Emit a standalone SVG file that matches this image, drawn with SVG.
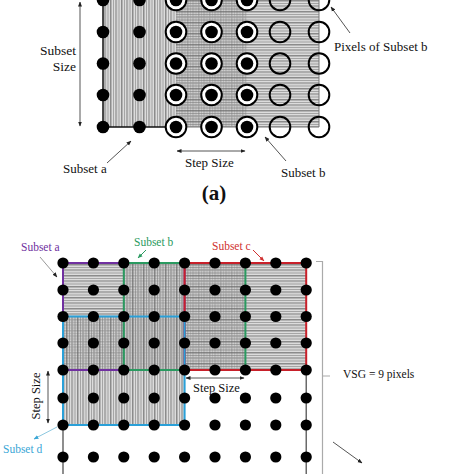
<svg xmlns="http://www.w3.org/2000/svg" width="474" height="474" viewBox="0 0 474 474">
<style>
  text { font-family: "Liberation Serif", "Times New Roman", serif; fill: #111; }
  .dot { fill: #000; }
  .ring { fill: #fff; stroke: #000; stroke-width: 2; }
  .open { fill: none; stroke: #000; stroke-width: 2; }
  .ann { stroke: #555; stroke-width: 1; fill: none; }
  .edge { fill: none; stroke-width: 2; }
</style>
<defs>
  <marker id="ah" viewBox="0 0 10 10" refX="9" refY="5" markerWidth="5" markerHeight="5" orient="auto-start-reverse">
    <path d="M0,1 L10,5 L0,9 z" fill="#222"/>
  </marker>
  <marker id="ahg" viewBox="0 0 10 10" refX="9" refY="5" markerWidth="5" markerHeight="5" orient="auto-start-reverse">
    <path d="M0,1 L10,5 L0,9 z" fill="#2a9a60"/>
  </marker>
  <marker id="ahr" viewBox="0 0 10 10" refX="9" refY="5" markerWidth="5" markerHeight="5" orient="auto-start-reverse">
    <path d="M0,1 L10,5 L0,9 z" fill="#d03030"/>
  </marker>
  <marker id="ahb" viewBox="0 0 10 10" refX="9" refY="5" markerWidth="5" markerHeight="5" orient="auto-start-reverse">
    <path d="M0,1 L10,5 L0,9 z" fill="#3aa6d6"/>
  </marker>
  <pattern id="ph" width="8" height="11" patternUnits="userSpaceOnUse">
    <rect width="8" height="11" fill="#c4c4c4" fill-opacity="0.6"/>
    <rect y="0" width="8" height="1.5" fill="#6a6a6a" fill-opacity="0.7"/>
    <rect y="3" width="8" height="0.8" fill="#7a7a7a" fill-opacity="0.7"/>
    <rect y="5" width="8" height="2.2" fill="#999" fill-opacity="0.7"/>
    <rect y="8.6" width="8" height="0.8" fill="#6e6e6e" fill-opacity="0.7"/>
  </pattern>
  <pattern id="pv" width="11" height="8" patternUnits="userSpaceOnUse">
    <rect width="11" height="8" fill="#c4c4c4" fill-opacity="0.6"/>
    <rect x="0" width="1.5" height="8" fill="#6a6a6a" fill-opacity="0.7"/>
    <rect x="3" width="0.8" height="8" fill="#7a7a7a" fill-opacity="0.7"/>
    <rect x="5" width="2.2" height="8" fill="#999" fill-opacity="0.7"/>
    <rect x="8.6" width="0.8" height="8" fill="#6e6e6e" fill-opacity="0.7"/>
  </pattern>
</defs>
<rect width="474" height="474" fill="#fff"/>

<!-- ===== Part (a) ===== -->
<g id="a-subset-a">
  <rect x="103" y="-2" width="144" height="129" fill="url(#pv)"/>
  <path d="M103,-2 V127 H176" stroke="#111" stroke-width="1.5" fill="none"/>
</g>
<g id="a-subset-b">
  <rect x="176" y="-2" width="143" height="129" fill="url(#ph)"/>
  <path d="M176,127 H319 V-2" stroke="#777" stroke-width="1" fill="none"/>
</g>
<g id="a-pixels">
  <g id="a-col1">
    <circle class="dot" cx="103" cy="0" r="6.3"/><circle class="dot" cx="103" cy="32" r="6.3"/><circle class="dot" cx="103" cy="63.5" r="6.3"/><circle class="dot" cx="103" cy="95" r="6.3"/><circle class="dot" cx="103" cy="127" r="6.3"/>
  </g>
  <g id="a-col2">
    <circle class="dot" cx="139.5" cy="0" r="6.3"/><circle class="dot" cx="139.5" cy="32" r="6.3"/><circle class="dot" cx="139.5" cy="63.5" r="6.3"/><circle class="dot" cx="139.5" cy="95" r="6.3"/><circle class="dot" cx="139.5" cy="127" r="6.3"/>
  </g>
  <g id="a-col3">
    <circle class="ring" cx="176" cy="0" r="10.3"/><circle class="dot" cx="176" cy="0" r="6.3"/>
    <circle class="ring" cx="176" cy="32" r="10.3"/><circle class="dot" cx="176" cy="32" r="6.3"/>
    <circle class="ring" cx="176" cy="63.5" r="10.3"/><circle class="dot" cx="176" cy="63.5" r="6.3"/>
    <circle class="ring" cx="176" cy="95" r="10.3"/><circle class="dot" cx="176" cy="95" r="6.3"/>
    <circle class="ring" cx="176" cy="127" r="10.3"/><circle class="dot" cx="176" cy="127" r="6.3"/>
  </g>
  <g id="a-col4">
    <circle class="ring" cx="211.5" cy="0" r="10.3"/><circle class="dot" cx="211.5" cy="0" r="6.3"/>
    <circle class="ring" cx="211.5" cy="32" r="10.3"/><circle class="dot" cx="211.5" cy="32" r="6.3"/>
    <circle class="ring" cx="211.5" cy="63.5" r="10.3"/><circle class="dot" cx="211.5" cy="63.5" r="6.3"/>
    <circle class="ring" cx="211.5" cy="95" r="10.3"/><circle class="dot" cx="211.5" cy="95" r="6.3"/>
    <circle class="ring" cx="211.5" cy="127" r="10.3"/><circle class="dot" cx="211.5" cy="127" r="6.3"/>
  </g>
  <g id="a-col5">
    <circle class="ring" cx="247" cy="0" r="10.3"/><circle class="dot" cx="247" cy="0" r="6.3"/>
    <circle class="ring" cx="247" cy="32" r="10.3"/><circle class="dot" cx="247" cy="32" r="6.3"/>
    <circle class="ring" cx="247" cy="63.5" r="10.3"/><circle class="dot" cx="247" cy="63.5" r="6.3"/>
    <circle class="ring" cx="247" cy="95" r="10.3"/><circle class="dot" cx="247" cy="95" r="6.3"/>
    <circle class="ring" cx="247" cy="127" r="10.3"/><circle class="dot" cx="247" cy="127" r="6.3"/>
  </g>
  <g id="a-col6">
    <circle class="open" cx="280" cy="0" r="10.3"/><circle class="open" cx="280" cy="32" r="10.3"/><circle class="open" cx="280" cy="63.5" r="10.3"/><circle class="open" cx="280" cy="95" r="10.3"/><circle class="open" cx="280" cy="127" r="10.3"/>
  </g>
  <g id="a-col7">
    <circle class="open" cx="319" cy="0" r="10.3"/><circle class="open" cx="319" cy="32" r="10.3"/><circle class="open" cx="319" cy="63.5" r="10.3"/><circle class="open" cx="319" cy="95" r="10.3"/><circle class="open" cx="319" cy="127" r="10.3"/>
  </g>
</g>
<g id="a-connectors">
  <line class="ann" x1="80" y1="2" x2="80" y2="126" marker-start="url(#ah)" marker-end="url(#ah)"/>
  <line class="ann" x1="177" y1="151" x2="245" y2="151" marker-start="url(#ah)" marker-end="url(#ah)"/>
  <line class="ann" x1="107" y1="163" x2="131" y2="141" marker-end="url(#ah)"/>
  <line class="ann" x1="286" y1="161" x2="265" y2="137" marker-end="url(#ah)"/>
  <line class="ann" x1="350" y1="33" x2="331" y2="7" marker-end="url(#ah)"/>
</g>
<g id="a-labels">
  <text x="76" y="55" font-size="13.5" text-anchor="end">Subset</text>
  <text x="76" y="71" font-size="13.5" text-anchor="end">Size</text>
  <text x="63" y="173" font-size="13">Subset a</text>
  <text x="185" y="167" font-size="13">Step Size</text>
  <text x="281" y="177" font-size="13">Subset b</text>
  <text x="334" y="51" font-size="13">Pixels of Subset b</text>
  <text x="214" y="200" font-size="21" font-weight="bold" text-anchor="middle">(a)</text>
</g>

<!-- ===== Part (b) ===== -->
<g id="b-fills">
  <rect x="63" y="263" width="121.6" height="107" fill="url(#ph)"/>
  <rect x="123.8" y="263" width="121.6" height="107" fill="url(#pv)"/>
  <rect x="184.6" y="263" width="121.6" height="107" fill="url(#ph)"/>
  <rect x="63" y="316.5" width="121.6" height="108.5" fill="url(#pv)"/>
</g>
<g id="b-gridlines">
  <line x1="63" y1="425" x2="63" y2="474" stroke="#444" stroke-width="1.2"/>
  <line x1="306.2" y1="370" x2="306.2" y2="474" stroke="#444" stroke-width="1.2"/>
</g>
<g id="b-subset-a"><rect class="edge" x="63" y="263" width="121.6" height="107" stroke="#7030a0"/></g>
<g id="b-subset-b"><rect class="edge" x="123.8" y="263" width="121.6" height="107" stroke="#2a9a60"/></g>
<g id="b-subset-c"><rect class="edge" x="184.6" y="263" width="121.6" height="107" stroke="#c8202a"/></g>
<g id="b-subset-d"><rect class="edge" x="63" y="316.5" width="121.6" height="108.5" stroke="#2aa0d8"/></g>
<g id="b-pixels" class="dot">
  <circle cx="63" cy="263" r="5.6"/><circle cx="93.4" cy="263" r="5.6"/><circle cx="123.8" cy="263" r="5.6"/><circle cx="154.2" cy="263" r="5.6"/><circle cx="184.6" cy="263" r="5.6"/><circle cx="215" cy="263" r="5.6"/><circle cx="245.4" cy="263" r="5.6"/><circle cx="275.8" cy="263" r="5.6"/><circle cx="306.2" cy="263" r="5.6"/>
  <circle cx="63" cy="290" r="5.6"/><circle cx="93.4" cy="290" r="5.6"/><circle cx="123.8" cy="290" r="5.6"/><circle cx="154.2" cy="290" r="5.6"/><circle cx="184.6" cy="290" r="5.6"/><circle cx="215" cy="290" r="5.6"/><circle cx="245.4" cy="290" r="5.6"/><circle cx="275.8" cy="290" r="5.6"/><circle cx="306.2" cy="290" r="5.6"/>
  <circle cx="63" cy="316.5" r="5.6"/><circle cx="93.4" cy="316.5" r="5.6"/><circle cx="123.8" cy="316.5" r="5.6"/><circle cx="154.2" cy="316.5" r="5.6"/><circle cx="184.6" cy="316.5" r="5.6"/><circle cx="215" cy="316.5" r="5.6"/><circle cx="245.4" cy="316.5" r="5.6"/><circle cx="275.8" cy="316.5" r="5.6"/><circle cx="306.2" cy="316.5" r="5.6"/>
  <circle cx="63" cy="343" r="5.6"/><circle cx="93.4" cy="343" r="5.6"/><circle cx="123.8" cy="343" r="5.6"/><circle cx="154.2" cy="343" r="5.6"/><circle cx="184.6" cy="343" r="5.6"/><circle cx="215" cy="343" r="5.6"/><circle cx="245.4" cy="343" r="5.6"/><circle cx="275.8" cy="343" r="5.6"/><circle cx="306.2" cy="343" r="5.6"/>
  <circle cx="63" cy="370" r="5.6"/><circle cx="93.4" cy="370" r="5.6"/><circle cx="123.8" cy="370" r="5.6"/><circle cx="154.2" cy="370" r="5.6"/><circle cx="184.6" cy="370" r="5.6"/><circle cx="215" cy="370" r="5.6"/><circle cx="245.4" cy="370" r="5.6"/><circle cx="275.8" cy="370" r="5.6"/><circle cx="306.2" cy="370" r="5.6"/>
  <circle cx="63" cy="398" r="5.6"/><circle cx="93.4" cy="398" r="5.6"/><circle cx="123.8" cy="398" r="5.6"/><circle cx="154.2" cy="398" r="5.6"/><circle cx="184.6" cy="398" r="5.6"/><circle cx="215" cy="398" r="5.6"/><circle cx="245.4" cy="398" r="5.6"/><circle cx="275.8" cy="398" r="5.6"/><circle cx="306.2" cy="398" r="5.6"/>
  <circle cx="63" cy="425" r="5.6"/><circle cx="93.4" cy="425" r="5.6"/><circle cx="123.8" cy="425" r="5.6"/><circle cx="154.2" cy="425" r="5.6"/><circle cx="184.6" cy="425" r="5.6"/><circle cx="215" cy="425" r="5.6"/><circle cx="245.4" cy="425" r="5.6"/><circle cx="275.8" cy="425" r="5.6"/><circle cx="306.2" cy="425" r="5.6"/>
  <circle cx="63" cy="457" r="5.6"/><circle cx="93.4" cy="457" r="5.6"/><circle cx="123.8" cy="457" r="5.6"/><circle cx="154.2" cy="457" r="5.6"/><circle cx="184.6" cy="457" r="5.6"/><circle cx="215" cy="457" r="5.6"/><circle cx="245.4" cy="457" r="5.6"/><circle cx="275.8" cy="457" r="5.6"/><circle cx="306.2" cy="457" r="5.6"/>
</g>
<g id="b-connectors">
  <line x1="40" y1="257" x2="57" y2="277" stroke="#999" stroke-width="1" marker-end="url(#ah)"/>
  <line x1="146" y1="250" x2="138" y2="258" stroke="#2a9a60" stroke-width="1" marker-end="url(#ahg)"/>
  <line x1="253" y1="250" x2="264" y2="261" stroke="#d03030" stroke-width="1" marker-end="url(#ahr)"/>
  <line x1="57" y1="427" x2="34" y2="439" stroke="#8cc8e0" stroke-width="1" marker-end="url(#ahb)"/>
  <line class="ann" x1="48" y1="371" x2="48" y2="423" marker-start="url(#ah)" marker-end="url(#ah)"/>
  <line class="ann" x1="186" y1="378" x2="244" y2="378" marker-start="url(#ah)" marker-end="url(#ah)"/>
  <path d="M316,261.5 H322.5 V474 M322.5,376 H330" stroke="#aaa" stroke-width="1.2" fill="none"/>
  <line class="ann" x1="333" y1="442" x2="362" y2="463" marker-end="url(#ah)"/>
</g>
<g id="b-labels">
  <text x="21" y="251" font-size="11.5" style="fill:#7030a0">Subset a</text>
  <text x="134" y="246" font-size="11.5" style="fill:#2a9a60">Subset b</text>
  <text x="212" y="250" font-size="11.5" style="fill:#d03030">Subset c</text>
  <text x="3" y="453" font-size="11.5" style="fill:#3aa6d6">Subset d</text>
  <text transform="translate(39.5,396) rotate(-90)" font-size="12.5" text-anchor="middle">Step Size</text>
  <text x="193" y="392" font-size="12.5">Step Size</text>
  <text x="343" y="378" font-size="11.5">VSG = 9 pixels</text>
</g>
</svg>
